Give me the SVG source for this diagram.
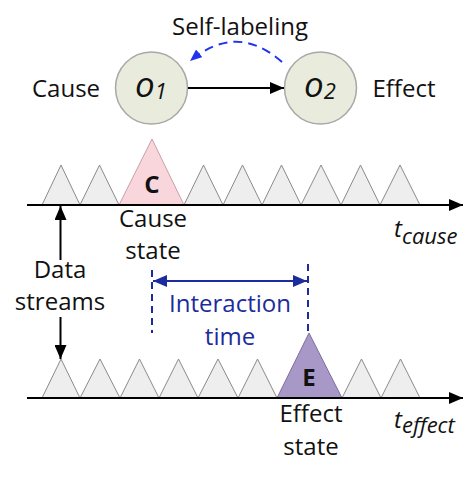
<svg xmlns="http://www.w3.org/2000/svg" width="474" height="480" viewBox="0 0 474 480">
<style>
text{font-family:"Open Sans","Liberation Sans",sans-serif;font-size:24px;fill:#111}
.c{text-anchor:middle}
.it{font-style:italic}
.b{font-weight:bold}
.node{fill:#e9ecdc;stroke:#a8a8a8;stroke-width:1.5}
.tri{fill:#eeeeee;stroke:#8a8a8a;stroke-width:1}
.axis{stroke:#000;stroke-width:2;fill:none}
.blue{fill:#1c2c9c}
</style>
<defs>
<marker id="ak" markerUnits="userSpaceOnUse" markerWidth="14" markerHeight="12" refX="14" refY="6" orient="auto"><path d="M0,0 L14,6 L0,12 Z" fill="#000"/></marker>
<marker id="ab" markerUnits="userSpaceOnUse" markerWidth="12" markerHeight="10" refX="12" refY="5" orient="auto"><path d="M0,0 L12,5 L0,10 Z" fill="#2233ee"/></marker>
<marker id="ad" markerUnits="userSpaceOnUse" markerWidth="14" markerHeight="12" refX="14" refY="6" orient="auto-start-reverse"><path d="M0,0 L14,6 L0,12 Z" fill="#1c2c9c"/></marker>
</defs>

<text class="c" x="240" y="35">Self-labeling</text>
<text class="c" x="66" y="97">Cause</text>
<text class="c" x="404" y="97">Effect</text>

<g id="o1">
<circle class="node" cx="151.5" cy="88" r="36"/>
<text class="c it" x="151" y="97"><tspan font-size="35px">o</tspan><tspan font-size="22px" dy="2">1</tspan></text>
</g>
<g id="o2">
<circle class="node" cx="320.5" cy="88" r="36"/>
<text class="c it" x="320" y="97"><tspan font-size="35px">o</tspan><tspan font-size="22px" dy="2">2</tspan></text>
</g>

<g id="stream-cause">
<polygon class="tri" points="42,205 61,165 80,205"/>
<polygon class="tri" points="80,205 99.5,165 119,205"/>
<polygon class="tri" points="184,205 203.5,165 223,205"/>
<polygon class="tri" points="223,205 242.5,165 262,205"/>
<polygon class="tri" points="262,205 281.5,165 301,205"/>
<polygon class="tri" points="301,205 321,165 341,205"/>
<polygon class="tri" points="341,205 360.5,165 380,205"/>
<polygon class="tri" points="380,205 400,165 420,205"/>
</g>
<g id="cause-state">
<polygon points="119,205 152,139 184,205" fill="#f9d6dc" stroke="#c9a0a8" stroke-width="1"/>
<text class="c b" x="152" y="193" font-size="26px">C</text>
<text class="c" x="153" y="227">Cause</text>
<text class="c" x="153" y="259">state</text>
</g>

<g id="stream-effect">
<polygon class="tri" points="42,398 61,359 80,398"/>
<polygon class="tri" points="80,398 100,359 120,398"/>
<polygon class="tri" points="120,398 139.5,359 159,398"/>
<polygon class="tri" points="159,398 178.5,359 198,398"/>
<polygon class="tri" points="198,398 218,359 238,398"/>
<polygon class="tri" points="238,398 257.5,359 277,398"/>
<polygon class="tri" points="342,398 361.5,359 381,398"/>
<polygon class="tri" points="381,398 400.5,359 420,398"/>
</g>
<g id="effect-state">
<polygon points="277,398 309,333 342,398" fill="#a898c8" stroke="#7e6e9e" stroke-width="1"/>
<text class="c b" x="309" y="386" font-size="26px">E</text>
<text class="c" x="311" y="422">Effect</text>
<text class="c" x="311" y="455">state</text>
</g>

<g id="labels">
<text class="c" x="60" y="278">Data</text>
<text class="c" x="60" y="310">streams</text>
<text class="c blue" x="230" y="312">Interaction</text>
<text class="c blue" x="230" y="345">time</text>
<text class="it" x="394" y="237" font-size="36px">t<tspan font-size="22px" dy="7">cause</tspan></text>
<text class="it" x="394" y="428" font-size="36px">t<tspan font-size="22px" dy="5">effect</tspan></text>
</g>

<g id="connectors">
<line x1="188" y1="88" x2="284" y2="88" stroke="#000" stroke-width="2" marker-end="url(#ak)"/>
<path d="M282,62 Q237,22 190,61" fill="none" stroke="#2233ee" stroke-width="2" stroke-dasharray="9,6" marker-end="url(#ab)"/>
<line class="axis" x1="27" y1="205" x2="463" y2="205" marker-end="url(#ak)"/>
<line class="axis" x1="27" y1="398" x2="463" y2="398" marker-end="url(#ak)"/>
<line x1="60.5" y1="260" x2="60.5" y2="206" stroke="#000" stroke-width="2" marker-end="url(#ak)"/>
<line x1="60.5" y1="317" x2="60.5" y2="359" stroke="#000" stroke-width="2" marker-end="url(#ak)"/>
<line x1="152" y1="270" x2="152" y2="333" stroke="#1c2c9c" stroke-width="2" stroke-dasharray="7,5"/>
<line x1="308" y1="264" x2="308" y2="333" stroke="#1c2c9c" stroke-width="2" stroke-dasharray="7,5"/>
<line x1="153" y1="281" x2="307" y2="281" stroke="#1c2c9c" stroke-width="2" marker-start="url(#ad)" marker-end="url(#ad)"/>
</g>
</svg>
